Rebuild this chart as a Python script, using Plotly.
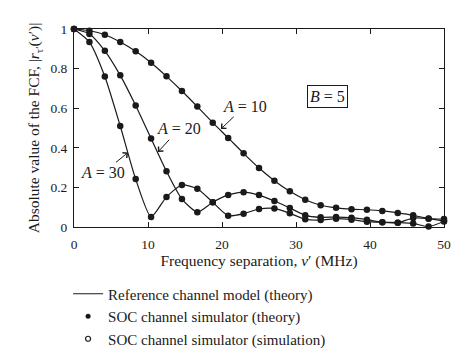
import plotly.graph_objects as go

# Frequency separation (MHz): 25 sample points from 0 to 50
freq = [i * 50 / 24 for i in range(25)]

a10 = [1.0, 0.991, 0.971, 0.934, 0.887, 0.830, 0.761, 0.687, 0.608, 0.527, 0.450, 0.372,
       0.298, 0.234, 0.180, 0.138, 0.110, 0.097, 0.090, 0.087, 0.081, 0.071, 0.059, 0.043, 0.040]
a20 = [1.0, 0.975, 0.890, 0.766, 0.614, 0.447, 0.281, 0.141, 0.075, 0.125, 0.162, 0.176,
       0.161, 0.131, 0.096, 0.059, 0.049, 0.050, 0.047, 0.037, 0.024, 0.022, 0.045, 0.042, 0.030]
a30 = [1.0, 0.934, 0.760, 0.510, 0.242, 0.051, 0.152, 0.212, 0.193, 0.125, 0.057, 0.067,
       0.091, 0.094, 0.069, 0.039, 0.035, 0.042, 0.037, 0.027, 0.024, 0.022, 0.018, 0.002, 0.028]

series = [("A = 10", a10), ("A = 20", a20), ("A = 30", a30)]

legend_labels = ["Reference channel model (theory)",
                 "SOC channel simulator (theory)",
                 "SOC channel simulator (simulation)"]

FONT = "Liberation Serif"
INK = "#1a1a1a"

fig = go.Figure()
for name, vals in series:
    fig.add_trace(go.Scatter(x=freq, y=vals, mode="lines", line=dict(color=INK, width=1.2, shape="spline", smoothing=0.6),
                             showlegend=False, cliponaxis=False))
    fig.add_trace(go.Scatter(x=freq, y=vals, mode="markers", marker=dict(color=INK, size=6.5),
                             showlegend=False, cliponaxis=False))

# legend entries
fig.add_trace(go.Scatter(x=[None], y=[None], mode="lines", line=dict(color=INK, width=1.2),
                         name=legend_labels[0]))
fig.add_trace(go.Scatter(x=[None], y=[None], mode="markers", marker=dict(color=INK, size=5),
                         name=legend_labels[1]))
fig.add_trace(go.Scatter(x=[None], y=[None], mode="markers",
                         marker=dict(color="white", size=5, line=dict(color=INK, width=1.2)),
                         name=legend_labels[2]))

axis_common = dict(showline=True, linecolor=INK, linewidth=1, mirror="ticks", ticks="inside",
                   ticklen=5, tickcolor=INK, showgrid=False, zeroline=False, automargin=False,
                   tickfont=dict(family=FONT, size=13.5, color=INK))

fig.update_xaxes(range=[0, 50], tickvals=[0, 10, 20, 30, 40, 50], ticklabelstandoff=5,
                 title=dict(text="Frequency separation, <i>ν</i>′ (MHz)", font=dict(family=FONT, size=15.5, color=INK),
                            standoff=3),
                 **axis_common)
fig.update_yaxes(range=[0, 1], tickvals=[0, 0.2, 0.4, 0.6, 0.8, 1], ticklabelstandoff=3,
                 title=dict(text="Absolute value of the FCF, |<i>r</i><sub>τ′</sub>(<i>ν</i>′)|",
                            font=dict(family=FONT, size=15.5, color=INK), standoff=6),
                 **axis_common)

ann_font = dict(family=FONT, size=16, color=INK)
arrow = dict(showarrow=True, arrowhead=4, arrowsize=1.3, arrowwidth=1, arrowcolor=INK,
             axref="x", ayref="y", font=ann_font, startstandoff=1)
annotations = [
    dict(x=19.86, y=0.495, ax=23.1, ay=0.611, text="<i>A</i> = 10", **arrow),
    dict(x=11.35, y=0.379, ax=14.2, ay=0.495, text="<i>A</i> = 20", **arrow),
    dict(x=7.3, y=0.376, ax=3.9, ay=0.273, text="<i>A</i> = 30", **arrow),
    dict(x=34.2, y=0.659, text="<i>B</i> = 5", showarrow=False, font=ann_font,
         bordercolor=INK, borderwidth=1, borderpad=2),
]

fig.update_layout(
    width=474, height=362,
    margin=dict(l=66, r=38, t=21, b=143),
    paper_bgcolor="white", plot_bgcolor="white",
    annotations=annotations,
    legend=dict(x=-0.016, y=-0.255, xanchor="left", yanchor="top", font=dict(family=FONT, size=15, color=INK),
                tracegroupgap=0, bgcolor="rgba(0,0,0,0)"),
    font=dict(family=FONT, color=INK),
)

fig.write_html("out.html")
